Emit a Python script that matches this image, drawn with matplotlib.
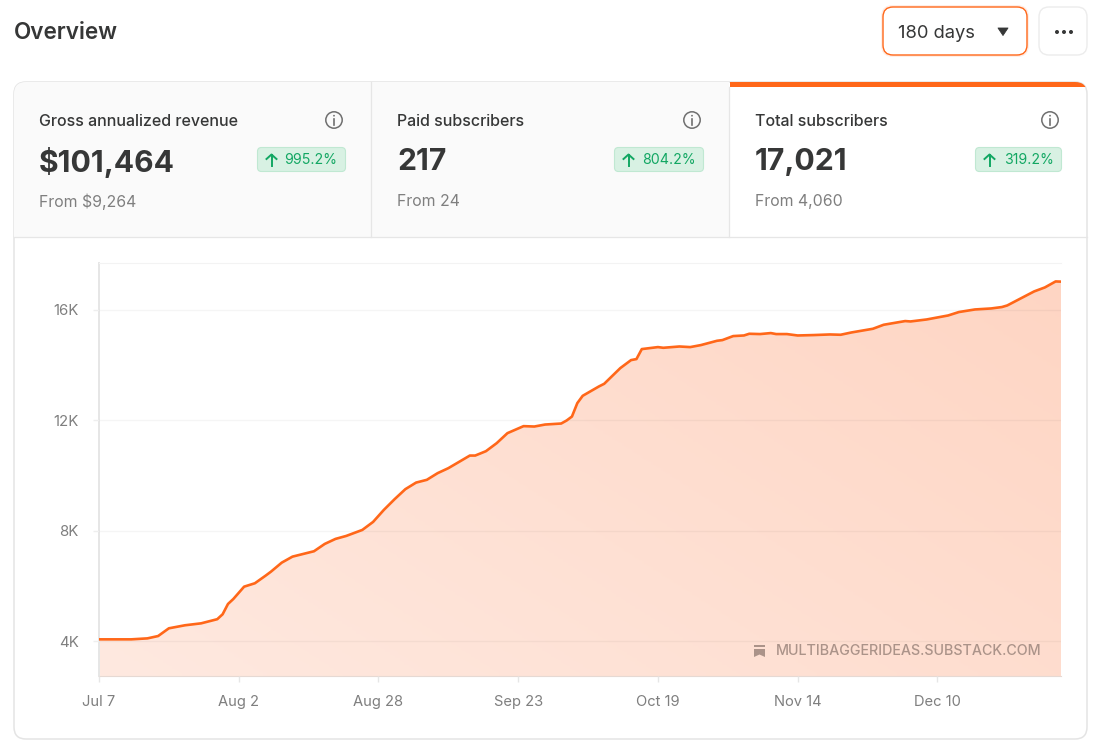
#!/usr/bin/env python3
import numpy as np
import matplotlib
matplotlib.use("Agg")
import matplotlib.pyplot as plt
from matplotlib.patches import FancyBboxPatch, Rectangle, Circle, Polygon
from matplotlib.colors import LinearSegmentedColormap

plt.rcParams['font.family'] = ['Inter', 'DejaVu Sans']

# days since Jul 7 -> total subscribers
days = [0, 6, 9, 11, 13, 16, 19, 22, 23, 24, 25, 27, 29, 31, 32, 34, 36, 40, 42, 44,
        46, 49, 51, 53, 55, 57, 59, 61, 63, 65, 67, 69, 70, 72, 74, 76, 79, 81, 83, 86,
        87, 88, 89, 90, 93, 94, 97, 99, 100, 101, 104, 105, 108, 110, 112, 115, 116, 118, 120, 121,
        123, 125, 126, 128, 130, 133, 136, 138, 140, 144, 146, 150, 151, 154, 158, 160, 163, 166, 168, 169,
        174, 176, 178, 179]
subs = [4060, 4060, 4095, 4180, 4460, 4570, 4640, 4790, 4968, 5342, 5523, 5969, 6092, 6368, 6513, 6839, 7057, 7252, 7517, 7699,
        7807, 8025, 8315, 8750, 9138, 9501, 9740, 9840, 10081, 10262, 10490, 10719, 10719, 10878, 11169, 11531, 11785, 11771, 11843, 11880,
        11988, 12133, 12619, 12884, 13221, 13319, 13888, 14178, 14215, 14577, 14649, 14624, 14671, 14649, 14722, 14878, 14903, 15048, 15070, 15132,
        15121, 15157, 15121, 15121, 15070, 15085, 15107, 15096, 15179, 15313, 15458, 15592, 15578, 15650, 15795, 15919, 16013, 16049, 16100, 16158,
        16666, 16811, 17028, 17021]

x_ticks = [0, 26, 52, 78, 104, 130, 156]
x_labels = ['Jul 7', 'Aug 2', 'Aug 28', 'Sep 23', 'Oct 19', 'Nov 14', 'Dec 10']
y_ticks = [4000, 8000, 12000, 16000]
y_labels = ['4K', '8K', '12K', '16K']

card_titles = ['Gross annualized revenue', 'Paid subscribers', 'Total subscribers']
card_values = ['$101,464', '217', '17,021']
card_from = ['From $9,264', 'From 24', 'From 4,060']
card_change = ['995.2%', '804.2%', '319.2%']

ORANGE = '#ff6719'
DARK = '#363737'
GREY = '#7f7f7f'
GREEN = '#12a763'
W, H = 1099, 746

fig = plt.figure(figsize=(W / 100, H / 100), dpi=100, facecolor='white')

# page furniture is drawn in pixel coordinates
ui = fig.add_axes([0, 0, 1, 1], zorder=1)
ui.set_xlim(0, W)
ui.set_ylim(H, 0)
ui.axis('off')


def rbox(x0, y0, x1, y1, r, **kw):
    p = FancyBboxPatch((x0 + r, y0 + r), x1 - x0 - 2 * r, y1 - y0 - 2 * r,
                       boxstyle=f'round,pad={r},rounding_size={r}', **kw)
    ui.add_patch(p)
    return p


ui.text(14, 33, 'Overview', fontsize=16.2, weight='semibold', color=DARK, va='center')

# 180 days dropdown with its soft glow
rbox(881, 5, 1029, 57, 12, fc='#ffeee6', ec='none')
rbox(883, 7, 1027, 55, 10, fc='white', ec=ORANGE, lw=1)
ui.text(898, 33, '180 days', fontsize=13.2, color=DARK, va='center')
ui.add_patch(Polygon([(998, 28), (1008, 28), (1003, 35.5)], closed=True, fc=DARK, ec=DARK, lw=0.6, joinstyle='round'))

rbox(1039, 7, 1087, 55, 10, fc='white', ec='#ececec', lw=1)
for cx in (1057, 1064, 1071):
    ui.add_patch(Circle((cx, 32), 2, fc=DARK, ec='none'))

# card
card = rbox(14, 82, 1087, 739, 12, fc='white', ec='#e4e4e4', lw=1.1)
cell_edges = [14, 371, 729, 1087]
for i in range(2):
    r = Rectangle((cell_edges[i], 82), cell_edges[i + 1] - cell_edges[i], 155, fc='#fafafa', ec='none')
    ui.add_patch(r)
    r.set_clip_path(card)
bar = Rectangle((730, 82), 357, 5, fc=ORANGE, ec='none', zorder=3)
ui.add_patch(bar)
bar.set_clip_path(card)
ui.plot([14, 1087], [237, 237], color='#e6e6e6', lw=0.9, zorder=3)
ui.plot([371, 371], [82, 237], color='#e6e6e6', lw=0.9, zorder=3)
ui.plot([729, 729], [87, 237], color='#e6e6e6', lw=0.9, zorder=3)

text_x = [39, 397, 755]
icon_x = [334, 692, 1050]
badge_l = [257.5, 614.5, 975.5]
badge_r = [345.5, 703.5, 1061.5]
for i in range(3):
    ui.text(text_x[i], 121.5, card_titles[i], fontsize=11.5, color=DARK, va='center', weight='medium')
    ui.text(text_x[i], 162.5, card_values[i], fontsize=21.7, color=DARK, va='center', weight='bold')
    ui.text(text_x[i], 201.5, card_from[i], fontsize=11.4, color=GREY, va='center')
    # info icon
    ui.add_patch(Circle((icon_x[i], 120), 8.2, fc='none', ec='#6f6f6f', lw=1.1))
    ui.plot([icon_x[i], icon_x[i]], [119, 124.5], color='#6f6f6f', lw=1.2)
    ui.add_patch(Circle((icon_x[i], 115.7), 0.9, fc='#6f6f6f', ec='none'))
    # change badge
    rbox(badge_l[i], 147.5, badge_r[i], 171.5, 4, fc='#d8f1e3', ec='#c0e8d2', lw=0.8)
    ax_ = badge_l[i] + 14
    ui.plot([ax_, ax_], [154.5, 165.5], color=GREEN, lw=1.4)
    ui.plot([ax_ - 5, ax_, ax_ + 5], [159, 154.5, 159], color=GREEN, lw=1.4)
    ui.text(badge_r[i] - 8, 160.5, card_change[i], fontsize=10.2, color=GREEN, va='center', ha='right')

# the chart itself
x0, x1, y_top, y_bot = 99, 1061, 263, 676
ax = fig.add_axes([x0 / W, 1 - y_bot / H, (x1 - x0) / W, (y_bot - y_top) / H], zorder=2)
ax.patch.set_alpha(0)
ymin, ymax = 2732, 17696
xmax = 179

poly = ax.fill_between(days, subs, ymin, color='none')
cmap = LinearSegmentedColormap.from_list('fill', ['#fee9e0', '#ffd5c3'])
u, v = np.meshgrid(np.linspace(0, 1, 200), np.linspace(0, 1, 200))
im = ax.imshow(0.6 * u + 0.4 * v, extent=[0, xmax, ymin, ymax], origin='lower', aspect='auto',
               cmap=cmap, zorder=1, interpolation='bilinear')
im.set_clip_path(poly.get_paths()[0], transform=ax.transData)
ax.plot(days, subs, color=ORANGE, lw=1.9, zorder=4, solid_joinstyle='round', solid_capstyle='round')

ax.set_xlim(0, xmax)
ax.set_ylim(ymin, ymax)
ax.set_xticks(x_ticks, x_labels)
ax.set_yticks(y_ticks, y_labels)
ax.grid(axis='y', color='black', alpha=0.04, lw=1, zorder=3)
ax.set_axisbelow(False)
ax.tick_params(axis='x', length=4, width=1, color='#e6e6e6', labelcolor=GREY, labelsize=10.6, pad=9.5)
ax.tick_params(axis='y', length=4.5, width=1, color='#eeeeee', labelcolor=GREY, labelsize=10.8, pad=10)
ax.spines['right'].set_visible(False)
ax.spines['top'].set_color('#f3f3f3')
ax.spines['left'].set_color('#e6e6e6')
ax.spines['left'].set_linewidth(1.4)
ax.spines['bottom'].set_color('#e6d9d3')

# publication watermark
ax_over = fig.add_axes([0, 0, 1, 1], zorder=3)
ax_over.set_xlim(0, W)
ax_over.set_ylim(H, 0)
ax_over.axis('off')
ax_over.text(1041.5, 651, 'MULTIBAGGERIDEAS.SUBSTACK.COM', fontsize=10.3, weight='medium',
             color='#ab9389', ha='right', va='center')
ax_over.add_patch(Rectangle((754, 645), 11, 2, fc='#ab9389', ec='none'))
ax_over.add_patch(Polygon([(754, 649), (765, 649), (765, 657), (759.5, 654.5), (754, 657)], closed=True, fc='#ab9389', ec='none'))

fig.savefig('out.png', dpi=100)
